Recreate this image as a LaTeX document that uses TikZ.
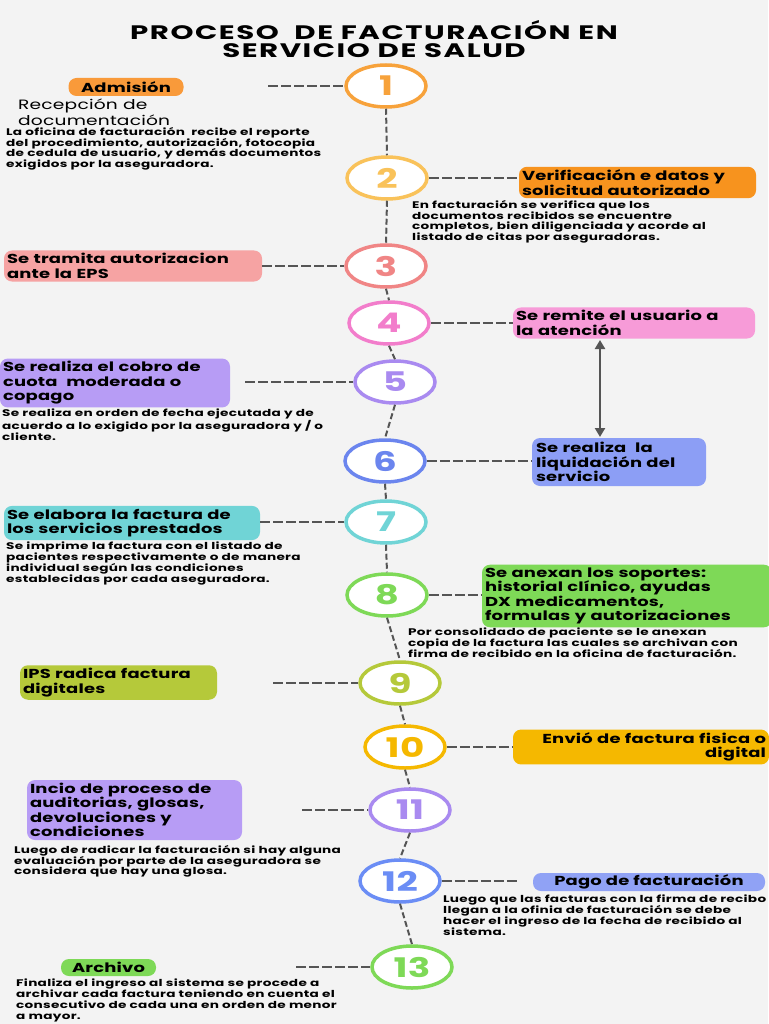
\documentclass[tikz,border=0pt]{standalone}
\usepackage{fontspec}
\setmainfont{Poppins}
\newfontfamily\boxf[FakeStretch=1.38,LetterSpace=1.5]{Poppins}
\newfontfamily\parf[FakeStretch=1.42,LetterSpace=3]{Poppins}
\newfontfamily\titf[FakeStretch=1.5,LetterSpace=8]{Poppins}
\usetikzlibrary{shapes.geometric,arrows.meta}
\definecolor{bg}{HTML}{F3F3F3}
\definecolor{c1}{HTML}{F7A23B}\definecolor{c2}{HTML}{F9C25A}\definecolor{c3}{HTML}{F08585}
\definecolor{c4}{HTML}{F27DCB}\definecolor{c5}{HTML}{A98AF0}\definecolor{c6}{HTML}{6B85EE}
\definecolor{c7}{HTML}{70D4D6}\definecolor{c8}{HTML}{7ED957}\definecolor{c9}{HTML}{B5C93A}
\definecolor{c10}{HTML}{F5B800}\definecolor{c11}{HTML}{A98AF0}\definecolor{c12}{HTML}{6B8DF5}
\definecolor{c13}{HTML}{7ED957}
\definecolor{b1}{HTML}{F99A3A}\definecolor{b2}{HTML}{F7931E}\definecolor{b3}{HTML}{F6A3A3}
\definecolor{b4}{HTML}{F79BD8}\definecolor{b5}{HTML}{B79CF5}\definecolor{b6}{HTML}{8C9EF5}
\definecolor{b7}{HTML}{70D4D6}\definecolor{b8}{HTML}{7ED957}\definecolor{b9}{HTML}{B5C93A}
\definecolor{b10}{HTML}{F5B800}\definecolor{b11}{HTML}{B79CF5}\definecolor{b12}{HTML}{90A2F5}
\definecolor{b13}{HTML}{7ED957}
\definecolor{ln}{HTML}{555555}
\tikzset{
 num/.style={ellipse,draw=#1,line width=3.5pt,fill=white,minimum width=80pt,minimum height=42pt,
   text=#1,font=\boxf\fontsize{27}{27}\selectfont\bfseries,inner sep=0pt},
 box/.style={rounded corners=8pt,inner sep=3pt,font=\boxf\fontsize{13}{14.5}\selectfont\bfseries,align=left},
 para/.style={anchor=north west,inner sep=0pt,align=left,font=\parf\fontsize{9.6}{10.8}\selectfont\bfseries},
 dsh/.style={ln,line width=1.3pt,dash pattern=on 10pt off 3pt},
 vln/.style={ln,line width=2pt,dash pattern=on 6pt off 3pt}
}
\begin{document}
\begin{tikzpicture}[x=1pt,y=-1pt]
\fill[bg] (0,0) rectangle (768,1024);
\useasboundingbox (0,0) rectangle (768,1024);
\node[font=\titf\fontsize{19.5}{19}\selectfont\bfseries,align=center,inner sep=0pt] (title) at (374,39)
 {PROCESO\ \ DE FACTURACIÓN EN\\[-1pt]SERVICIO DE SALUD};
% circles
\node[num=c1] (n1) at (386,86) {1};
\node[num=c2] (n2) at (387,178) {2};
\node[num=c3] (n3) at (386,266) {3};
\node[num=c4] (n4) at (389,323) {4};
\node[num=c5] (n5) at (395,382) {5};
\node[num=c6] (n6) at (385,461) {6};
\node[num=c7] (n7) at (386,522) {7};
\node[num=c8] (n8) at (387,595) {8};
\node[num=c9] (n9) at (400,683) {9};
\node[num=c10] (n10) at (405,747) {10};
\node[num=c11] (n11) at (410,810) {11};
\node[num=c12] (n12) at (400,881) {12};
\node[num=c13] (n13) at (412,967) {13};
\foreach \a/\b in {1/2,2/3,3/4,4/5,5/6,6/7,7/8,8/9,9/10,10/11,11/12,12/13}
  \draw[vln] (n\a.south) -- (n\b.north);
% boxes
\node[box,fill=b1,minimum width=115pt,minimum height=18pt,align=center,inner sep=1pt] (a1) at (126,87) {Admisión};
\coordinate (d1) at (268,87);
\draw[dsh] (n1.west -| d1) -- (n1.west);
\node[anchor=north west,inner sep=0pt,align=left,font=\boxf\fontsize{13.5}{13.5}\selectfont] (r1) at (18,99) {Recepción de\\documentación};
\node[para] (p1) at (6,127) {La oficina de facturación\ \ recibe el reporte\\del procedimiento, autorización, fotocopia\\de cedula de usuario, y demás documentos\\exigidos por la aseguradora.};
\node[box,fill=b2,minimum width=237pt,text width=231pt,minimum height=31pt] (a2) at (637.5,182.5) {Verificación e datos y\\solicitud autorizado};
\draw[dsh] (n2.east) -- (n2.east -| a2.west);
\node[para] (p2) at (412,200) {En facturación se verifica que los\\documentos recibidos se encuentre\\completos, bien diligenciada y acorde al\\listado de citas por aseguradoras.};
\node[box,fill=b3,minimum width=258pt,text width=252pt,minimum height=30pt] (a3) at (133,266) {Se tramita autorizacion\\ante la EPS};
\draw[dsh] (a3.east) -- (n3.west);
\node[box,fill=b4,minimum width=242pt,text width=236pt,minimum height=30pt] (a4) at (634,323) {Se remite el usuario a\\la atención};
\draw[dsh] (n4.east) -- (a4.west);
\node[box,fill=b5,minimum width=230pt,text width=224pt,minimum height=46pt] (a5) at (115,383) {Se realiza el cobro de\\cuota\ \ moderada o\\copago};
\coordinate (d5) at (245,382);
\draw[dsh] (n5.west -| d5) -- (n5.west);
\node[para] (p5) at (2,409) {Se realiza en orden de fecha ejecutada y de\\acuerdo a lo exigido por la aseguradora y / o\\cliente.};
\node[box,fill=b6,minimum width=174pt,text width=166pt,minimum height=48pt] (a6) at (619,462) {Se realiza\ \ la\\liquidación del\\servicio};
\draw[dsh] (n6.east) -- (n6.east -| a6.west);
\coordinate (ar1) at (600,340);
\coordinate (ar2) at (600,437);
\draw[ln,line width=2.5pt,{Triangle[length=9pt,width=10pt]}-{Triangle[length=9pt,width=10pt]}] (ar1) -- (ar2);
\node[box,fill=b7,minimum width=256pt,text width=250pt,minimum height=30pt] (a7) at (132,523) {Se elabora la factura de\\los servicios prestados};
\draw[dsh] (n7.west -| a7.east) -- (n7.west);
\node[para] (p7) at (6,542) {Se imprime la factura con el listado de\\pacientes respectivamente o de manera\\individual según las condiciones\\establecidas por cada aseguradora.};
\node[box,fill=b8,minimum width=290pt,text width=284pt,minimum height=60pt] (a8) at (627,596) {Se anexan los soportes:\\historial clínico, ayudas\\DX medicamentos,\\formulas y autorizaciones};
\draw[dsh] (n8.east) -- (n8.east -| a8.west);
\node[para] (p8) at (408,628) {Por consolidado de paciente se le anexan\\copia de la factura las cuales se archivan con\\firma de recibido en la oficina de facturación.};
\node[box,fill=b9,minimum width=197pt,text width=191pt,minimum height=31pt] (a9) at (118.5,682.5) {IPS radica factura\\digitales};
\coordinate (d9) at (273,683);
\draw[dsh] (n9.west -| d9) -- (n9.west);
\node[box,fill=b10,minimum width=256pt,text width=250pt,minimum height=30pt,align=right] (a10) at (641,747) {Envió de factura fisica o\\digital};
\draw[dsh] (n10.east) -- (a10.west);
\node[box,fill=b11,minimum width=215pt,text width=209pt,minimum height=60pt] (a11) at (134.5,810) {Incio de proceso de\\auditorias, glosas,\\devoluciones y\\condiciones};
\coordinate (d11) at (302,806);
\draw[dsh] (n11.west -| d11) -- (n11.west);
\node[para] (p11) at (14,845) {Luego de radicar la facturación si hay alguna\\evaluación por parte de la aseguradora se\\considera que hay una glosa.};
\node[box,fill=b12,minimum width=232pt,minimum height=18pt,align=center,inner sep=1pt] (a12) at (649,882) {Pago de facturación};
\coordinate (d12) at (519,887);
\draw[dsh] (n12.east) -- (n12.east -| d12);
\node[para] (p12) at (443,895) {Luego que las facturas con la firma de recibo\\llegan a la ofinia de facturación se debe\\hacer el ingreso de la fecha de recibido al\\sistema.};
\node[box,fill=b13,minimum width=95pt,minimum height=17pt,align=center,inner sep=1pt] (a13) at (108.5,967.5) {Archivo};
\coordinate (d13) at (296,967);
\draw[dsh] (n13.west -| d13) -- (n13.west);
\node[para] (p13) at (16,979) {Finaliza el ingreso al sistema se procede a\\archivar cada factura teniendo en cuenta el\\consecutivo de cada una en orden de menor\\a mayor.};
\end{tikzpicture}
\end{document}
